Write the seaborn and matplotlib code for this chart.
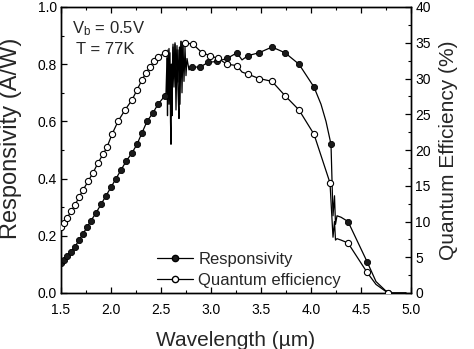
import numpy as np
import pandas as pd
import matplotlib
matplotlib.use("Agg")
import matplotlib.pyplot as plt
import seaborn as sns
from matplotlib.lines import Line2D
from matplotlib.ticker import MultipleLocator, FormatStrFormatter

# ---------------- data ----------------
# Responsivity (A/W) - marker points
resp_wl = [1.50, 1.53, 1.56, 1.60, 1.64, 1.68, 1.72, 1.76, 1.80, 1.85, 1.90, 1.95,
           2.00, 2.05, 2.10, 2.15, 2.21, 2.26, 2.31, 2.36, 2.42, 2.47, 2.54,
           2.81, 2.89, 2.97, 3.06, 3.16, 3.26, 3.37, 3.48, 3.61, 3.74, 3.88,
           4.03, 4.20, 4.37, 4.56, 4.77]
resp_val = [0.105, 0.115, 0.128, 0.145, 0.162, 0.185, 0.207, 0.230, 0.253, 0.280, 0.310, 0.340,
            0.370, 0.400, 0.430, 0.460, 0.490, 0.520, 0.560, 0.600, 0.630, 0.660, 0.690,
            0.790, 0.790, 0.806, 0.810, 0.820, 0.840, 0.830, 0.840, 0.860, 0.840, 0.800,
            0.720, 0.520, 0.250, 0.110, 0.000]
# Responsivity - extra line-only points (noisy regions, curvature)
resp_wl_extra = [2.55, 2.56, 2.565, 2.57, 2.58, 2.59, 2.595, 2.60, 2.605, 2.61, 2.62, 2.63,
                 2.64, 2.65, 2.66, 2.67, 2.68, 2.685, 2.69, 2.70, 2.71, 2.72, 2.73, 2.74,
                 2.75, 2.76, 2.78, 3.31, 4.10, 4.15, 4.22, 4.235, 4.245, 4.26, 4.30,
                 4.65, 4.95]
resp_val_extra = [0.70, 0.82, 0.62, 0.85, 0.66, 0.84, 0.60, 0.52, 0.80, 0.62, 0.86, 0.72,
                  0.87, 0.64, 0.85, 0.71, 0.61, 0.86, 0.66, 0.88, 0.70, 0.87, 0.74, 0.86,
                  0.76, 0.82, 0.78, 0.815, 0.66, 0.60, 0.27, 0.34, 0.24, 0.27, 0.265,
                  0.04, 0.00]

# Quantum efficiency (%) - marker points
qe_wl = [1.50, 1.53, 1.56, 1.60, 1.64, 1.68, 1.72, 1.77, 1.82, 1.87, 1.92, 1.96,
         2.01, 2.07, 2.14, 2.21, 2.26, 2.31, 2.35, 2.39, 2.43, 2.47, 2.54,
         2.74, 2.82, 2.91, 2.99, 3.07, 3.16, 3.26, 3.37, 3.48, 3.61, 3.74, 3.88,
         4.03, 4.19, 4.37, 4.56, 4.77]
qe_val = [9.2, 9.8, 10.5, 11.4, 12.3, 13.4, 14.4, 15.6, 16.8, 18.2, 19.4, 20.4,
          22.2, 24.0, 25.6, 27.0, 28.4, 29.8, 30.8, 31.6, 32.4, 33.0, 33.6,
          35.0, 34.8, 33.6, 33.2, 32.8, 32.0, 31.8, 30.6, 30.0, 29.6, 27.6, 25.6,
          22.2, 15.4, 7.0, 2.9, 0.0]
# Quantum efficiency - extra line-only points
qe_wl_extra = [2.56, 2.57, 2.58, 2.59, 2.60, 2.61, 2.62, 2.63, 2.64, 2.65, 2.66, 2.67,
               2.68, 2.69, 2.70, 2.71, 2.72, 3.31, 4.22, 4.235, 4.245, 4.26, 4.30,
               4.65, 4.95]
qe_val_extra = [33.0, 29.5, 34.2, 30.0, 32.0, 29.0, 34.8, 30.5, 35.0, 31.0, 34.6, 29.5,
                34.0, 31.0, 35.2, 32.0, 34.8, 30.9, 7.8, 10.0, 7.4, 7.6, 7.4,
                1.2, 0.0]

# ---------------- figure ----------------
sns.set_theme(style="ticks")
plt.rcParams['font.family'] = ['Liberation Sans', 'DejaVu Sans']
plt.rcParams['mathtext.fontset'] = 'custom'
plt.rcParams['mathtext.rm'] = 'Liberation Sans'

fig = plt.figure(figsize=(4.74, 3.49), dpi=100)
ax = fig.add_axes([61 / 474, 1 - 293 / 349, 350 / 474, 286 / 349])
ax2 = ax.twinx()

resp_line = pd.DataFrame({"wl": resp_wl + resp_wl_extra, "v": resp_val + resp_val_extra}).sort_values("wl")
qe_line = pd.DataFrame({"wl": qe_wl + qe_wl_extra, "v": qe_val + qe_val_extra}).sort_values("wl")

lw = 0.9
sns.lineplot(data=resp_line, x="wl", y="v", ax=ax, color="black", lw=lw,
             estimator=None, sort=False)
sns.lineplot(data=qe_line, x="wl", y="v", ax=ax2, color="black", lw=lw,
             estimator=None, sort=False)
sns.scatterplot(x=resp_wl, y=resp_val, ax=ax, s=20, color="#1a1a1a",
                edgecolor="black", linewidth=0.6, zorder=5)
sns.scatterplot(x=qe_wl, y=qe_val, ax=ax2, s=20, color="white",
                edgecolor="black", linewidth=0.8, zorder=5)

ax.set_xlim(1.5, 5.0)
ax.set_ylim(0, 1.0)
ax2.set_ylim(0, 40)

ax.xaxis.set_major_locator(MultipleLocator(0.5))
ax.xaxis.set_minor_locator(MultipleLocator(0.25))
ax.yaxis.set_major_locator(MultipleLocator(0.2))
ax.yaxis.set_minor_locator(MultipleLocator(0.1))
ax2.yaxis.set_major_locator(MultipleLocator(5))
ax2.yaxis.set_minor_locator(MultipleLocator(2.5))
ax.xaxis.set_major_formatter(FormatStrFormatter('%.1f'))
ax.yaxis.set_major_formatter(FormatStrFormatter('%.1f'))

for a in (ax, ax2):
    for s in a.spines.values():
        s.set_linewidth(1.0)
        s.set_color("black")
ax.tick_params(axis="x", which="both", direction="in", top=True, bottom=True,
               labelsize=10, pad=7, colors="black")
ax.tick_params(axis="y", which="both", direction="in", left=True, right=False,
               labelsize=10, pad=3, colors="black")
ax.tick_params(which="major", length=4, width=0.9)
ax.tick_params(which="minor", length=2.2, width=0.8)
ax2.tick_params(axis="y", which="both", direction="in", right=True, labelsize=10,
                pad=3, colors="black")
ax2.tick_params(which="major", length=4, width=0.9)
ax2.tick_params(which="minor", length=2.2, width=0.8)

ax.set_xlabel("Wavelength (µm)", fontsize=15, labelpad=10)
ax.set_ylabel("Responsivity (A/W)", fontsize=17)
ax.yaxis.set_label_coords(-0.112, 0.54)
ax2.set_ylabel("Quantum Efficiency (%)", fontsize=15, labelpad=6)

ax.text(0.03, 0.925, r"$\mathregular{V_b}$ = 0.5V", transform=ax.transAxes,
        fontsize=12, va="center", ha="left")
ax.text(0.042, 0.85, "T = 77K", transform=ax.transAxes,
        fontsize=12, va="center", ha="left")

handles = [
    Line2D([], [], color="black", lw=lw, marker="o", markersize=4.5,
           markerfacecolor="#1a1a1a", markeredgecolor="black"),
    Line2D([], [], color="black", lw=lw, marker="o", markersize=4.5,
           markerfacecolor="white", markeredgecolor="black"),
]
ax.legend(handles, ["Responsivity", "Quantum efficiency"], loc="lower left",
          bbox_to_anchor=(0.24, -0.022), frameon=False, fontsize=12,
          handlelength=2.2, handletextpad=0.3, labelspacing=0.35,
          borderaxespad=0.3)

fig.savefig("out.png", dpi=100)
